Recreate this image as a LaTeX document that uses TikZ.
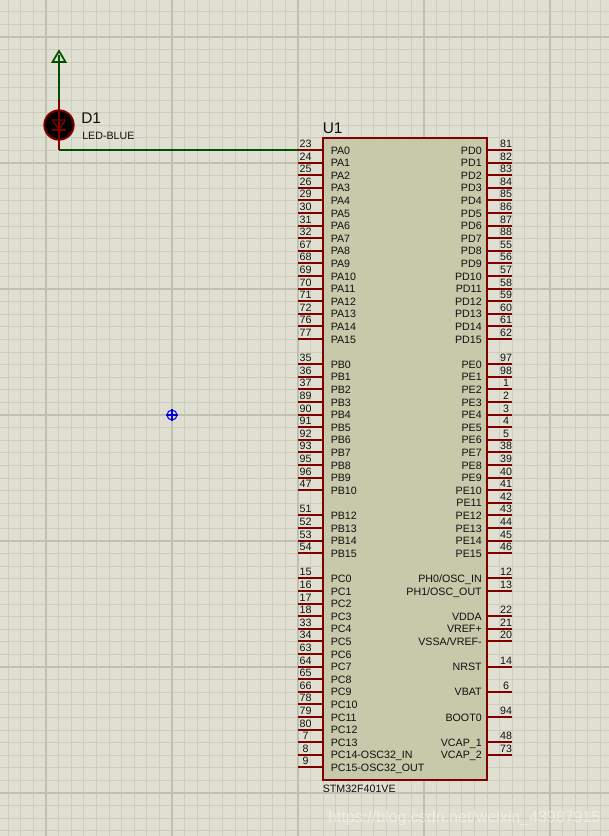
\documentclass[tikz,border=0pt]{standalone}
\usepackage{fontspec}
\setmainfont{Liberation Sans}
\definecolor{bgc}{RGB}{224,224,210}
\definecolor{gridminor}{RGB}{205,205,190}
\definecolor{gridmajor}{RGB}{192,192,176}
\definecolor{chipfill}{RGB}{200,200,170}
\definecolor{pinred}{RGB}{128,0,0}
\definecolor{wiregreen}{RGB}{0,80,0}
\definecolor{txt}{RGB}{15,15,15}
\tikzset{
  pinline/.style={draw=pinred,line width=1.5pt},
  wire/.style={draw=wiregreen,line width=1.3pt},
  pintext/.style={inner sep=0pt,text=txt,font=\fontsize{8.0}{9.6}\selectfont},
  biglabel/.style={inner sep=0pt,anchor=base west,text=txt,font=\fontsize{11.6}{13}\selectfont},
  smalllabel/.style={inner sep=0pt,anchor=base west,text=txt,font=\fontsize{8.0}{9.6}\selectfont},
  chipbox/.style={draw=pinred,fill=chipfill,line width=1.5pt,minimum width=123pt,minimum height=481.5pt,inner sep=0pt},
  ledbody/.style={circle,draw=pinred,fill=black,line width=1.5pt,minimum size=22pt,inner sep=0pt},
}
\begin{document}
\begin{tikzpicture}[x=0.75pt,y=-0.75pt]
\useasboundingbox (0,0) rectangle (609,836);
\fill[bgc] (0,0) rectangle (609,836);
% grid
\foreach \k in {-3,...,45}{
  \pgfmathsetmacro\gx{46+12.6*\k}
  \draw[gridminor,line width=0.75pt] (\gx,0) -- (\gx,836);
}
\foreach \k in {-2,...,63}{
  \pgfmathsetmacro\gy{37+12.6*\k}
  \draw[gridminor,line width=0.75pt] (0,\gy) -- (609,\gy);
}
\foreach \k in {0,...,4}{
  \pgfmathsetmacro\gx{46+126*\k}
  \draw[gridmajor,line width=1.2pt] (\gx,0) -- (\gx,836);
}
\foreach \k in {0,...,6}{
  \pgfmathsetmacro\gy{37+126*\k}
  \draw[gridmajor,line width=1.2pt] (0,\gy) -- (609,\gy);
}
% origin marker
\coordinate (org) at (172,415);
\draw[blue!85!black,line width=0.8pt] (org) circle[radius=3.75pt];
\draw[blue!85!black,line width=0.8pt] ([xshift=-4.7pt]org) -- ([xshift=4.7pt]org) ([yshift=-4.7pt]org) -- ([yshift=4.7pt]org);
% chip
\node[chipbox] (U) at (405,459) {};
\node[biglabel] (ulabel) at (322.5,133) {U1};
\node[smalllabel] (upart) at (322.5,792) {STM32F401VE};
% left pins
\foreach \k/\n/\t in {
 0/23/PA0,1/24/PA1,2/25/PA2,3/26/PA3,4/29/PA4,5/30/PA5,6/31/PA6,7/32/PA7,
 8/67/PA8,9/68/PA9,10/69/PA10,11/70/PA11,12/71/PA12,13/72/PA13,14/76/PA14,15/77/PA15,
 17/35/PB0,18/36/PB1,19/37/PB2,20/89/PB3,21/90/PB4,22/91/PB5,23/92/PB6,24/93/PB7,
 25/95/PB8,26/96/PB9,27/47/PB10,29/51/PB12,30/52/PB13,31/53/PB14,32/54/PB15,
 34/15/PC0,35/16/PC1,36/17/PC2,37/18/PC3,38/33/PC4,39/34/PC5,40/63/PC6,41/64/PC7,
 42/65/PC8,43/66/PC9,44/78/PC10,45/79/PC11,46/80/PC12,47/7/PC13,48/8/PC14-OSC32\_IN,49/9/PC15-OSC32\_OUT}{
  \pgfmathsetmacro\py{150+12.6*\k}
  \coordinate (Lin\n) at (323,\py);
  \coordinate (Ltip\n) at (298,\py);
  \draw[pinline] (Lin\n) -- (Ltip\n);
  \node[pintext,anchor=base] (Lnum\n) at (305.5,\py-2.5) {\n};
  \node[pintext,anchor=base west] (Ltxt\n) at (330.5,\py+4) {\t};
}
% right pins
\foreach \k/\n/\t in {
 0/81/PD0,1/82/PD1,2/83/PD2,3/84/PD3,4/85/PD4,5/86/PD5,6/87/PD6,7/88/PD7,
 8/55/PD8,9/56/PD9,10/57/PD10,11/58/PD11,12/59/PD12,13/60/PD13,14/61/PD14,15/62/PD15,
 17/97/PE0,18/98/PE1,19/1/PE2,20/2/PE3,21/3/PE4,22/4/PE5,23/5/PE6,24/38/PE7,
 25/39/PE8,26/40/PE9,27/41/PE10,28/42/PE11,29/43/PE12,30/44/PE13,31/45/PE14,32/46/PE15,
 34/12/{PH0/OSC\_IN},35/13/{PH1/OSC\_OUT},37/22/VDDA,38/21/VREF+,39/20/{VSSA/VREF-},
 41/14/NRST,43/6/VBAT,45/94/BOOT0,47/48/VCAP\_1,48/73/VCAP\_2}{
  \pgfmathsetmacro\py{150+12.6*\k}
  \coordinate (Rin\n) at (487,\py);
  \coordinate (Rtip\n) at (512,\py);
  \draw[pinline] (Rin\n) -- (Rtip\n);
  \node[pintext,anchor=base] (Rnum\n) at (506,\py-2.5) {\n};
  \node[pintext,anchor=base east] (Rtxt\n) at (482,\py+4) {\t};
}
% LED
\coordinate (ledtop) at (59,100);
\coordinate (ledbot) at (59,150);
\node[ledbody] (D) at (59,125) {};
\draw[pinline] (ledtop) -- (D.north);
\draw[pinline] (D.north) -- (ledbot);
\draw[pinred,line width=1pt] (52.5,120) -- (65.5,120) -- (59,130) -- cycle;
\draw[pinred,line width=1pt] (52,130) -- (66,130);
\node[biglabel] (dname) at (81,123.5) {D1};
\node[smalllabel] (dpart) at (82,139) {LED-BLUE};
% terminal and wires
\coordinate (termin) at (59,55);
\draw[wire] (ledtop) -- (termin);
\draw[wire,line join=miter] (59,51) -- (65.5,62) -- (52.5,62) -- cycle;
\draw[wire] (ledbot) -- (Ltip23);
% watermark
\node[inner sep=0pt,anchor=base west,text=white,opacity=0.45,font=\fontsize{12}{14}\selectfont] (wm) at (328,822) {https://blog.csdn.net/weixin\_43987915};
\end{tikzpicture}
\end{document}
